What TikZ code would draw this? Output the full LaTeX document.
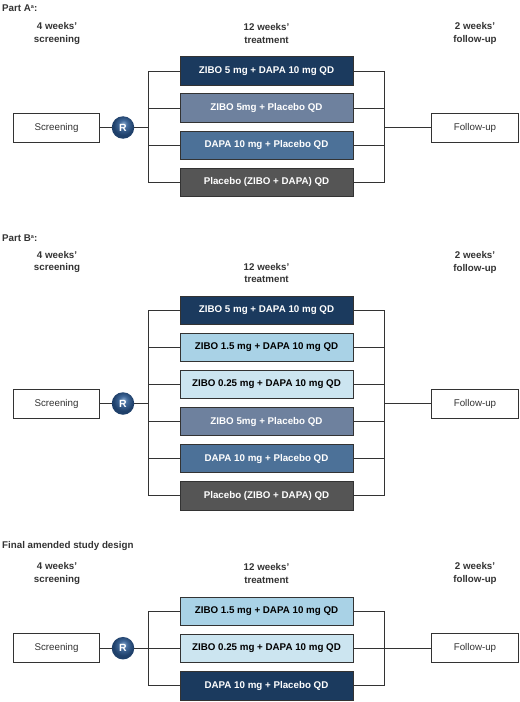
\documentclass[tikz,border=0pt]{standalone}
\usepackage{fontspec}
\setmainfont{Liberation Sans}
\definecolor{navy}{HTML}{1B3A5E}
\definecolor{slate}{HTML}{6E819E}
\definecolor{midblue}{HTML}{4C7198}
\definecolor{darkgrey}{HTML}{555555}
\definecolor{lightblue}{HTML}{A9D2E6}
\definecolor{paleblue}{HTML}{CCE5F0}
\definecolor{linecol}{HTML}{333333}
\definecolor{headcol}{HTML}{333333}
\definecolor{rbhi}{HTML}{86A6CA}
\definecolor{rbmid}{HTML}{41699A}
\definecolor{rbdark}{HTML}{1F406A}
\pgfdeclareradialshading{rballshade}{\pgfpoint{1bp}{9bp}}{color(0bp)=(rbhi); color(9bp)=(rbmid); color(22bp)=(rbdark); color(28bp)=(rbdark); color(50bp)=(rbdark)}
\newcommand{\supa}{\raisebox{3.2bp}{\fontsize{5.5}{6}\selectfont a}}
\tikzset{
  arm/.style={draw=linecol, line width=0.8bp, minimum width=173bp, minimum height=28.5bp, inner sep=0pt, font=\bfseries\fontsize{9.8}{12}\selectfont, text=white},
  darktxt/.style={text=black},
  plainbox/.style={draw=linecol, line width=0.8bp, fill=white, minimum width=86.5bp, minimum height=29bp, inner sep=0pt, font=\fontsize{9.8}{12}\selectfont, text=headcol},
  rball/.style={circle, minimum size=22.5bp, inner sep=0pt, shading=rballshade, text=white, font=\bfseries\fontsize{10.5}{12}\selectfont},
  head/.style={align=center, font=\bfseries\fontsize{9.8}{13}\selectfont, text=headcol, inner sep=0pt},
  title/.style={anchor=west, font=\bfseries\fontsize{9.8}{12}\selectfont, text=headcol, inner sep=0pt},
  conn/.style={draw=linecol, line width=0.8bp, line join=miter},
}
\begin{document}
\begin{tikzpicture}[x=1bp, y=-1bp]
\useasboundingbox (0,0) rectangle (520,702);

% ---------------- Part A ----------------
\node[title] (tA) at (2,8) {Part A\supa:};
\node[head] (hA1) at (57,33.5) {4 weeks'\\screening};
\node[head] (hA2) at (266.5,33.5) {12 weeks'\\treatment};
\node[head] (hA3) at (475,33.5) {2 weeks'\\follow-up};

\node[arm, fill=navy] (a1) at (266.5,71) {ZIBO 5 mg + DAPA 10 mg QD};
\node[arm, fill=slate] (a2) at (266.5,108.1) {ZIBO 5mg + Placebo QD};
\node[arm, fill=midblue] (a3) at (266.5,145.2) {DAPA 10 mg + Placebo QD};
\node[arm, fill=darkgrey] (a4) at (266.5,182.3) {Placebo (ZIBO + DAPA) QD};

\node[plainbox] (sA) at (56.5,127.5) {Screening};
\node[rball] (rA) at (123,127.5) {R};
\node[plainbox] (fA) at (475,127.5) {Follow-up};
\coordinate (lA) at (148,127.5);
\coordinate (gA) at (384,127.5);

\draw[conn] (sA) -- (rA);
\draw[conn] (rA) -- (lA);
\draw[conn] (a1.west) -- (a1.west -| lA) -- (a4.west -| lA) -- (a4.west);
\draw[conn] (a2.west -| lA) -- (a2.west);
\draw[conn] (a3.west -| lA) -- (a3.west);
\draw[conn] (a1.east) -- (a1.east -| gA) -- (a4.east -| gA) -- (a4.east);
\draw[conn] (a2.east) -- (a2.east -| gA);
\draw[conn] (a3.east) -- (a3.east -| gA);
\draw[conn] (gA) -- (fA);

% ---------------- Part B ----------------
\node[title] (tB) at (2,238) {Part B\supa:};
\node[head] (hB1) at (57,262) {4 weeks'\\screening};
\node[head] (hB2) at (266.5,273) {12 weeks'\\treatment};
\node[head] (hB3) at (475,262) {2 weeks'\\follow-up};

\node[arm, fill=navy] (b1) at (266.5,310.2) {ZIBO 5 mg + DAPA 10 mg QD};
\node[arm, fill=lightblue, darktxt] (b2) at (266.5,347.3) {ZIBO 1.5 mg + DAPA 10 mg QD};
\node[arm, fill=paleblue, darktxt] (b3) at (266.5,384.4) {ZIBO 0.25 mg + DAPA 10 mg QD};
\node[arm, fill=slate] (b4) at (266.5,421.5) {ZIBO 5mg + Placebo QD};
\node[arm, fill=midblue] (b5) at (266.5,458.6) {DAPA 10 mg + Placebo QD};
\node[arm, fill=darkgrey] (b6) at (266.5,495.7) {Placebo (ZIBO + DAPA) QD};

\node[plainbox] (sB) at (56.5,403.5) {Screening};
\node[rball] (rB) at (123,403.5) {R};
\node[plainbox] (fB) at (475,403.5) {Follow-up};
\coordinate (lB) at (148,403.5);
\coordinate (gB) at (384,403.5);

\draw[conn] (sB) -- (rB);
\draw[conn] (rB) -- (lB);
\draw[conn] (b1.west) -- (b1.west -| lB) -- (b6.west -| lB) -- (b6.west);
\foreach \n in {b2,b3,b4,b5} \draw[conn] (\n.west -| lB) -- (\n.west);
\draw[conn] (b1.east) -- (b1.east -| gB) -- (b6.east -| gB) -- (b6.east);
\foreach \n in {b2,b3,b4,b5} \draw[conn] (\n.east) -- (\n.east -| gB);
\draw[conn] (gB) -- (fB);

% ---------------- Final ----------------
\node[title] (tC) at (2,546) {Final amended study design};
\node[head] (hC1) at (57,573.5) {4 weeks'\\screening};
\node[head] (hC2) at (266.5,573.5) {12 weeks'\\treatment};
\node[head] (hC3) at (475,573.5) {2 weeks'\\follow-up};

\node[arm, fill=lightblue, darktxt] (c1) at (266.5,611.5) {ZIBO 1.5 mg + DAPA 10 mg QD};
\node[arm, fill=paleblue, darktxt] (c2) at (266.5,648.6) {ZIBO 0.25 mg + DAPA 10 mg QD};
\node[arm, fill=navy] (c3) at (266.5,685.7) {DAPA 10 mg + Placebo QD};

\node[plainbox] (sC) at (56.5,648.2) {Screening};
\node[rball] (rC) at (123,648.2) {R};
\node[plainbox] (fC) at (475,648.2) {Follow-up};
\coordinate (lC) at (148,648.2);
\coordinate (gC) at (384,648.2);

\draw[conn] (sC) -- (rC);
\draw[conn] (rC) -- (lC);
\draw[conn] (c1.west) -- (c1.west -| lC) -- (c3.west -| lC) -- (c3.west);
\draw[conn] (c2.west -| lC) -- (c2.west);
\draw[conn] (c1.east) -- (c1.east -| gC) -- (c3.east -| gC) -- (c3.east);
\draw[conn] (c2.east) -- (c2.east -| gC);
\draw[conn] (gC) -- (fC);
\end{tikzpicture}
\end{document}
